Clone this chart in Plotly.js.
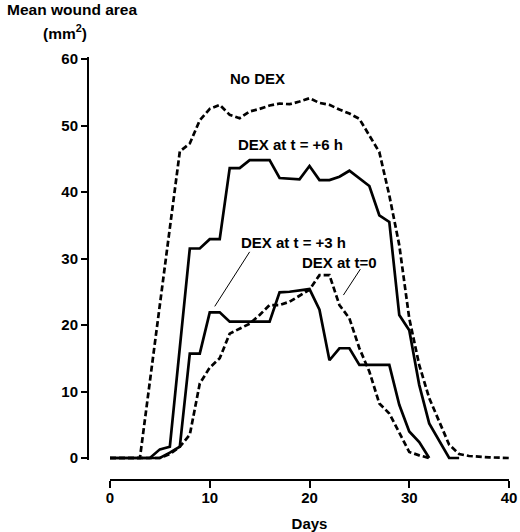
<!DOCTYPE html>
<html>
<head>
<meta charset="utf-8">
<script src="https://cdn.plot.ly/plotly-3.0.1.min.js"></script>
<style>
  html, body { margin: 0; padding: 0; background: #fff; }
  #chart { width: 520px; height: 532px; }
</style>
</head>
<body>
<div id="chart"></div>
<script>
// Mean wound area (mm2) per day
const noDexDays  = [0, 3, 7, 8, 9, 10, 11, 12, 13, 14, 15, 16, 17, 18, 19, 20, 21, 22, 23, 24, 25, 27, 28, 29, 30, 31, 32, 33, 34, 35, 36, 38, 40];
const noDexArea  = [0, 0, 46.1, 47.3, 50.8, 52.5, 53.1, 51.6, 51.1, 52.1, 52.5, 53.0, 53.3, 53.2, 53.6, 54.1, 53.4, 53.1, 52.4, 51.8, 51.0, 46.0, 39.5, 32.0, 21.0, 14.0, 9.0, 5.5, 2.0, 0.6, 0.3, 0.1, 0];

const dex6hDays  = [0, 4, 5, 6, 8, 9, 10, 11, 12, 13, 14, 16, 17, 19, 20, 21, 22, 23, 24, 25, 26, 27, 28, 29, 30, 31, 32, 34, 35];
const dex6hArea  = [0, 0, 1.3, 1.7, 31.5, 31.5, 32.9, 32.9, 43.6, 43.6, 44.8, 44.8, 42.1, 41.9, 43.9, 41.8, 41.8, 42.3, 43.2, 42.1, 40.9, 36.5, 35.5, 21.5, 19.2, 11.0, 5.2, 0, 0];

const dex3hDays  = [0, 5, 6, 7, 8, 9, 10, 11, 12, 16, 17, 18, 20, 21, 22, 23, 24, 25, 28, 29, 30, 31, 32];
const dex3hArea  = [0, 0, 0.8, 1.7, 15.7, 15.7, 21.9, 21.9, 20.5, 20.5, 24.9, 25.0, 25.4, 22.3, 14.7, 16.5, 16.5, 14.0, 14.0, 8.0, 4.0, 2.4, 0];

const dex0Days   = [0, 5, 6, 7, 8, 9, 10, 11, 12, 13, 14, 15, 16, 17, 18, 19, 20, 21, 22, 23, 24, 25, 26, 27, 28, 29, 30, 31, 32];
const dex0Area   = [0, 0, 0.6, 1.7, 3.5, 11.2, 13.6, 15.0, 18.7, 19.5, 20.2, 21.5, 23.0, 23.0, 23.5, 24.4, 25.3, 27.5, 27.5, 23.0, 21.0, 16.5, 13.0, 8.2, 6.7, 3.8, 0.9, 0.4, 0];

// curve labels and their leader lines (data units)
const labelText  = ['No DEX', 'DEX at t = +6 h', 'DEX at t = +3 h', 'DEX at t=0'];
const labelDay   = [14.8, 18.1, 18.4, 23.0];
const labelArea  = [57.0, 47.1, 32.4, 29.4];
const leaderFrom = [[14.0, 31.0], [25.1, 28.4]];
const leaderTo   = [[10.5, 22.8], [23.4, 24.5]];

const xTicks = [0, 10, 20, 30, 40];
const yTicks = [0, 10, 20, 30, 40, 50, 60];

const FONT = 'Liberation Sans, Arial, Helvetica, sans-serif';
const boldFont = { family: FONT, size: 15, color: '#000', weight: 'bold' };
const titleFont = { ...boldFont, size: 15.5 };

const solid = { color: '#000', width: 2.7 };
const dashed = { color: '#000', width: 2.7, dash: '6px,3px' };

const traces = [
    { x: noDexDays, y: noDexArea, line: dashed, name: 'No DEX' },
    { x: dex6hDays, y: dex6hArea, line: solid, name: 'DEX at t = +6 h' },
    { x: dex3hDays, y: dex3hArea, line: solid, name: 'DEX at t = +3 h' },
    { x: dex0Days, y: dex0Area, line: dashed, name: 'DEX at t=0' }
].map(t => ({ ...t, type: 'scatter', mode: 'lines', hoverinfo: 'skip' }));

const annotations = labelText.map((txt, i) => ({
    text: txt, x: labelDay[i], y: labelArea[i], xref: 'x', yref: 'y',
    showarrow: false, font: boldFont, xanchor: 'center', yanchor: 'middle'
}));

// y axis title, top left, two lines
annotations.push(
    { text: 'Mean wound area', xref: 'paper', yref: 'paper', x: -0.038, y: 1.113,
      showarrow: false, font: titleFont, xanchor: 'center', yanchor: 'middle' },
    { text: '(mm<sup>2</sup>)', xref: 'paper', yref: 'paper', x: -0.055, y: 1.060,
      showarrow: false, font: titleFont, xanchor: 'center', yanchor: 'middle' }
);

const shapes = leaderFrom.map((p, i) => ({
    type: 'line', xref: 'x', yref: 'y',
    x0: p[0], y0: p[1], x1: leaderTo[i][0], y1: leaderTo[i][1],
    line: { color: '#000', width: 1 }
}));

const layout = {
    width: 520, height: 532,
    margin: { l: 88, r: 11, t: 57, b: 52 },
    paper_bgcolor: '#fff',
    plot_bgcolor: '#fff',
    showlegend: false,
    font: boldFont,
    xaxis: {
        domain: [0.05226, 1],
        range: [0, 40],
        anchor: 'free', position: 0,
        showline: true, linecolor: '#000', linewidth: 2,
        ticks: 'outside', ticklen: 7, tickwidth: 2, tickcolor: '#000',
        tickvals: xTicks, tickfont: boldFont, ticklabelstandoff: -3,
        showgrid: false, zeroline: false,
        title: { text: 'Days', font: boldFont, standoff: 12 }
    },
    yaxis: {
        domain: [0.0473, 1],
        range: [-0.3, 60.3],
        anchor: 'free', position: 0,
        showline: true, linecolor: '#000', linewidth: 2,
        ticks: 'outside', ticklen: 6, tickwidth: 2, tickcolor: '#000',
        tickvals: yTicks, tickfont: boldFont,
        showgrid: false, zeroline: false
    },
    annotations: annotations,
    shapes: shapes
};

Plotly.newPlot('chart', traces, layout, { displayModeBar: false, staticPlot: true });
</script>
</body>
</html>
